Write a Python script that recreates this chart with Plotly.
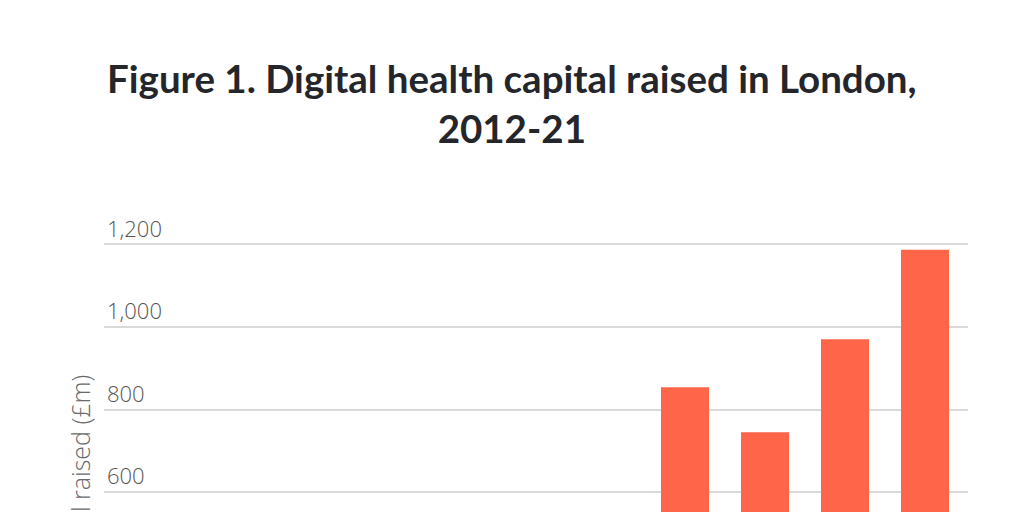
import plotly.graph_objects as go

years = ["2012", "2013", "2014", "2015", "2016", "2017", "2018", "2019", "2020", "2021"]
capital_raised = [25, 45, 95, 160, 240, 330, 854, 745, 970, 1187]
y_ticks = [0, 200, 400, 600, 800, 1000, 1200]
y_tick_labels = ["0", "200", "400", "600", "800", "1,000", "1,200"]

TITLE = "Figure 1. Digital health capital raised in London,<br>2012-21"
Y_TITLE = "Capital raised (£m)"

fig = go.Figure()
fig.add_trace(go.Bar(
    x=years,
    y=capital_raised,
    marker=dict(color="#ff6549", line=dict(width=0)),
    hoverinfo="x+y",
))

# y axis title as an annotation so it can sit exactly where the reference has it
fig.add_annotation(
    text=Y_TITLE,
    textangle=-90,
    xref="paper", yref="paper",
    x=-0.0278, y=0.6834,
    xanchor="center", yanchor="top",
    showarrow=False,
    font=dict(family="Open Sans", size=25, color="#6a6a6a", weight=300),
)

fig.update_layout(
    width=1024,
    height=820,
    paper_bgcolor="white",
    plot_bgcolor="white",
    showlegend=False,
    bargap=0.4,
    margin=dict(l=96, r=64, t=195, b=88),
    title=dict(
        text=TITLE,
        x=0.492,
        xanchor="center",
        y=0.896,
        yanchor="top",
        font=dict(family="Lato", size=38.5, color="#24262b", weight="bold"),
    ),
    xaxis=dict(
        type="category",
        range=[-1.2625, 9.5375],
        showgrid=False,
        showline=False,
        ticks="",
        tickfont=dict(family="Open Sans", size=22, color="#555555", weight=300),
    ),
    yaxis=dict(
        range=[0, 1300],
        tickvals=y_ticks,
        ticktext=y_tick_labels,
        ticklabelposition="inside top",
        showgrid=True,
        gridcolor="#d9d9d9",
        gridwidth=1.5,
        zeroline=False,
        showline=False,
        ticks="",
        tickfont=dict(family="Open Sans", size=22, color="#555555", weight=300),
    ),
)

fig.write_html("out.html")
